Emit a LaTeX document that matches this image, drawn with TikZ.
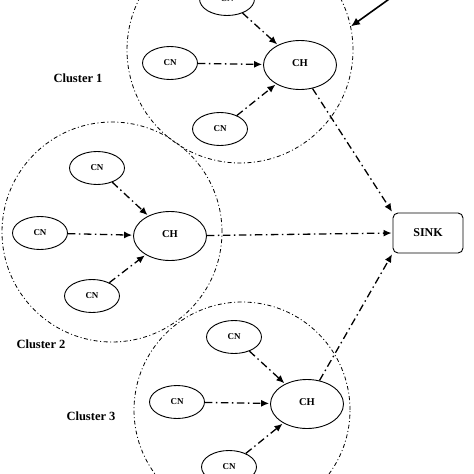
\documentclass[tikz,border=0pt]{standalone}
\usepackage{fontspec}
\setmainfont{Liberation Serif}
\usetikzlibrary{shapes.geometric,arrows.meta}
\newcommand{\px}{1pt}
\newcommand{\chlabel}{\raisebox{4pt}{CH}\hspace{10pt}}

\begin{document}
\begin{tikzpicture}[x=\px, y=-\px,
    cluster/.style={draw, circle, line width=0.8pt, dash pattern=on 4pt off 2.5pt on 1pt off 2.5pt, inner sep=0pt},
    cn/.style={draw, ellipse, line width=0.9pt, minimum width=55pt, minimum height=33pt, inner sep=0pt, font=\bfseries\fontsize{9}{9}\selectfont},
    ch/.style={draw, ellipse, line width=0.9pt, minimum width=73pt, minimum height=49pt, inner sep=0pt, font=\bfseries\fontsize{10.5}{10.5}\selectfont},
    sink/.style={draw, rectangle, rounded corners=5pt, line width=0.9pt, minimum width=70pt, minimum height=40pt, font=\bfseries\fontsize{12}{12}\selectfont},
    label/.style={font=\bfseries\fontsize{12.5}{12.5}\selectfont},
    link/.style={-{Latex[length=8pt,width=7pt]}, line width=1.3pt, dash pattern=on 7.5pt off 3.5pt on 1.5pt off 3.5pt, shorten >=1pt}]
    \useasboundingbox (0,0) rectangle (474,474);

    % Clusters
    \node[cluster, minimum size=226pt] (c1) at (240,50) {};
    \node[cluster, minimum size=220pt] (c2) at (112,232) {};
    \node[cluster, minimum size=216pt] (c3) at (242,410) {};

    \node[label] (l1) at (78,78) {Cluster 1};
    \node[label] (l2) at (41,344) {Cluster 2};
    \node[label] (l3) at (91,416) {Cluster 3};

    % Cluster 1
    \node[ch] (ch1) at (300,65) {\chlabel};
    \node[cn] (cn-1-1) at (227,-1) {CN};
    \node[cn] (cn-1-2) at (170,63) {CN};
    \node[cn] (cn-1-3) at (220,129) {CN};

    % Cluster 2
    \node[ch] (ch2) at (170,236) {\chlabel};
    \node[cn] (cn-2-1) at (97,168) {CN};
    \node[cn] (cn-2-2) at (40,233) {CN};
    \node[cn] (cn-2-3) at (92,296) {CN};

    % Cluster 3
    \node[ch] (ch3) at (307,404) {\chlabel};
    \node[cn] (cn-3-1) at (234,337) {CN};
    \node[cn] (cn-3-2) at (177,402) {CN};
    \node[cn] (cn-3-3) at (229,467) {CN};

    % Sink
    \node[sink] (sink) at (428,233) {SINK};

    % Links
    \draw[link] (cn-1-1) -- (ch1);
    \draw[link] (cn-1-2) -- (ch1);
    \draw[link] (cn-1-3) -- (ch1);
    \draw[link] (cn-2-1) -- (ch2);
    \draw[link] (cn-2-2) -- (ch2);
    \draw[link] (cn-2-3) -- (ch2);
    \draw[link] (cn-3-1) -- (ch3);
    \draw[link] (cn-3-2) -- (ch3);
    \draw[link] (cn-3-3) -- (ch3);

    \draw[link] (ch1.-62) -- (sink.north west);
    \draw[link] (ch2) -- (sink.west);
    \draw[link] (ch3.62) -- (sink.south west);

    % Pointer to cluster 1
    \coordinate (pin) at (392,-3);
    \draw[-{Latex[length=9pt,width=8pt]}, line width=1.6pt] (pin) -- (c1.12);

\end{tikzpicture}
\end{document}
